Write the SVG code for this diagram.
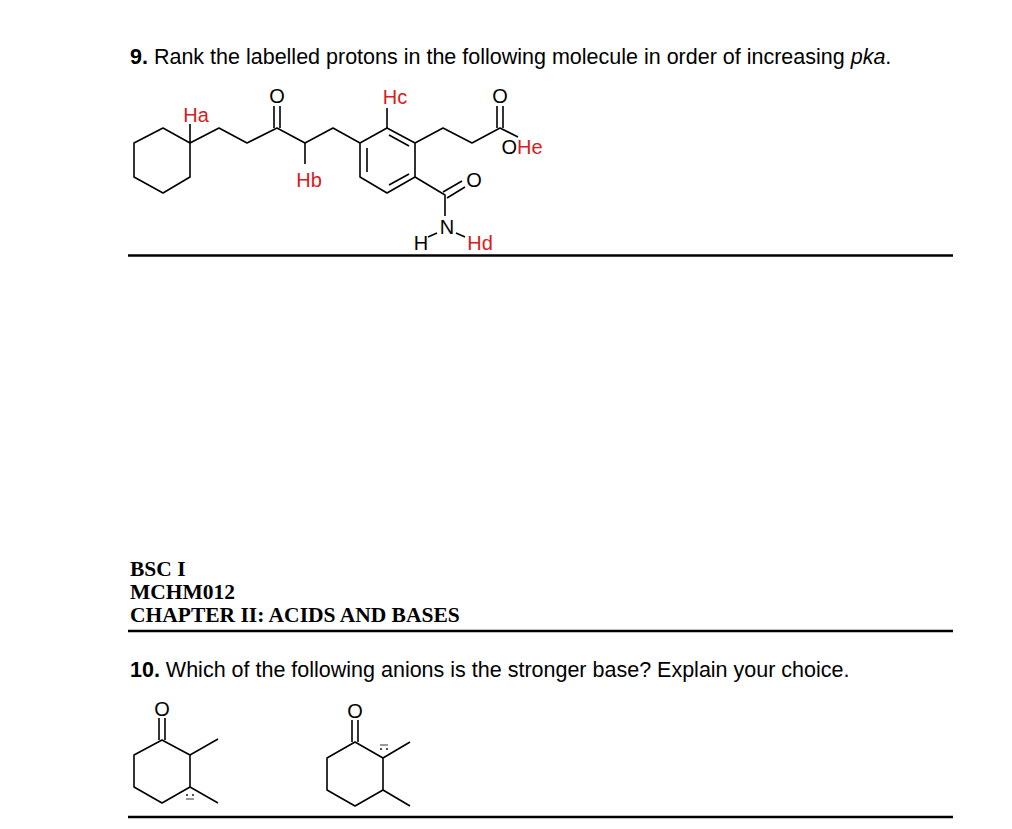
<svg xmlns="http://www.w3.org/2000/svg" width="1012" height="829" viewBox="0 0 1012 829">
<style>
.b{stroke:#000;stroke-width:1.6;fill:none;stroke-linejoin:round}
.t{font-family:"Liberation Sans",Arial,sans-serif;font-size:21.5px}
.l{font-family:"Liberation Sans",Arial,sans-serif;font-size:20px;text-anchor:middle}
.r{fill:#d42020}
.s{font-family:"Liberation Serif","Times New Roman",serif;font-size:21.5px;font-weight:bold}
</style>
<rect width="1012" height="829" fill="#fff"/>
<text class="t" x="130" y="64"><tspan font-weight="bold">9.</tspan> Rank the labelled protons in the following molecule in order of increasing <tspan font-style="italic">pka</tspan>.</text>
<g id="mol1">
<polygon class="b" points="163,128 190,143 190,177 163,193 134,177 134,143"/>
<polyline class="b" points="190,124 190,143 219,128 247,143 277,128 305,143 333,128 360,143"/>
<line class="b" x1="274" y1="128" x2="274" y2="106"/><line class="b" x1="280" y1="128" x2="280" y2="106"/>
<line class="b" x1="305" y1="143" x2="305" y2="164"/>
<polygon class="b" points="360,143 387,128 415,143 415,177 387,193 360,177"/>
<line class="b" x1="367" y1="148" x2="367" y2="172"/>
<line class="b" x1="389" y1="135" x2="409" y2="146"/>
<line class="b" x1="409" y1="174" x2="389" y2="185"/>
<line class="b" x1="387" y1="128" x2="387" y2="108"/>
<polyline class="b" points="415,143 443,128 472,143 500,128 518,137"/>
<line class="b" x1="497" y1="128" x2="497" y2="106"/><line class="b" x1="503" y1="128" x2="503" y2="106"/>
<polyline class="b" points="415,177 445,195 445,216"/>
<line class="b" x1="443" y1="192" x2="462" y2="181"/><line class="b" x1="447" y1="198" x2="465" y2="187"/>
<line class="b" x1="428" y1="237" x2="437" y2="233"/><line class="b" x1="456" y1="233" x2="465" y2="237"/>
<text class="l r" x="196" y="122">Ha</text>
<text class="l" x="277" y="103">O</text>
<text class="l r" x="309" y="187">Hb</text>
<text class="l r" x="395" y="104">Hc</text>
<text class="l" x="500" y="103">O</text>
<text class="l" x="522" y="154" text-anchor="start">O<tspan class="r">He</tspan></text>
<text class="l" x="474" y="187">O</text>
<text class="l" x="447" y="234">N</text>
<text class="l" x="421" y="250">H</text>
<text class="l r" x="480" y="250">Hd</text>
</g>
<line x1="128" y1="255.5" x2="953" y2="255.5" stroke="#000" stroke-width="2.5"/>
<text class="s" x="130" y="576">BSC I</text>
<text class="s" x="130" y="599">MCHM012</text>
<text class="s" x="130" y="622">CHAPTER II: ACIDS AND BASES</text>
<line x1="128" y1="631" x2="953" y2="631" stroke="#000" stroke-width="2.5"/>
<text class="t" x="130" y="677"><tspan font-weight="bold">10.</tspan> Which of the following anions is the stronger base? Explain your choice.</text>
<g id="anion1">
<polygon class="b" points="162,740 190,755 190,787 162,803 134,787 134,755"/>
<line class="b" x1="159" y1="740" x2="159" y2="718"/><line class="b" x1="165" y1="740" x2="165" y2="718"/>
<line class="b" x1="190" y1="755" x2="218" y2="739"/><line class="b" x1="190" y1="787" x2="218" y2="803"/>
<circle cx="187" cy="795" r="0.9"/><circle cx="193" cy="795" r="0.9"/><line x1="186" y1="799" x2="194" y2="799" stroke="#000" stroke-width="0.8"/>
<text class="l" x="162" y="716">O</text>
</g>
<g id="anion2">
<polygon class="b" points="355,742 383,758 383,790 355,806 327,790 327,758"/>
<line class="b" x1="352" y1="742" x2="352" y2="720"/><line class="b" x1="358" y1="742" x2="358" y2="720"/>
<line class="b" x1="383" y1="758" x2="410" y2="742"/><line class="b" x1="383" y1="790" x2="410" y2="806"/>
<line x1="380" y1="745" x2="388" y2="745" stroke="#000" stroke-width="0.8"/><circle cx="381" cy="749" r="0.9"/><circle cx="387" cy="749" r="0.9"/>
<text class="l" x="355" y="718">O</text>
</g>
<line x1="128" y1="817" x2="953" y2="817" stroke="#000" stroke-width="2.5"/>
</svg>
